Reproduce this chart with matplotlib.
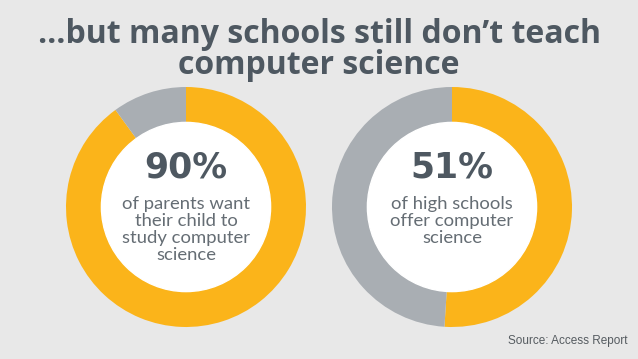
import matplotlib
matplotlib.use("Agg")
import matplotlib.pyplot as plt
from matplotlib.patches import Circle

# Data
title_lines = ["\u2026but many schools still don\u2019t teach", "computer science"]
left_values = [90, 10]
left_pct = "90%"
left_caption = "of parents want\ntheir child to\nstudy computer\nscience"
right_values = [51, 49]
right_pct = "51%"
right_caption = "of high schools\noffer computer\nscience"
source = "Source: Access Report"

YELLOW = "#FBB41A"
GRAY = "#A9AEB3"
BG = "#E8E8E8"
DARK = "#4E5861"
SUB = "#656D74"

W, H = 638, 359
fig = plt.figure(figsize=(W / 100, H / 100), dpi=100, facecolor=BG)


def donut(cx, cy, r, values, pct, caption, pct_y, cap_y):
    ax = fig.add_axes([(cx - r) / W, (H - cy - r) / H, 2 * r / W, 2 * r / H])
    ax.set_facecolor("none")
    ax.pie(values, colors=[YELLOW, GRAY], startangle=90, counterclock=False,
           radius=1, wedgeprops=dict(width=0.3, linewidth=0))
    ax.add_patch(Circle((0, 0), 0.705, color="white", zorder=3))
    ax.set_xlim(-1, 1)
    ax.set_ylim(-1, 1)
    ax.set_aspect("equal")
    ax.axis("off")
    fig.text(cx / W, 1 - pct_y / H, pct, ha="center", va="center",
             fontsize=25, fontweight="bold", color=DARK, family="DejaVu Sans")
    fig.text(cx / W, 1 - cap_y / H, caption, ha="center", va="top",
             fontsize=13.3, color=SUB, family="Lato", linespacing=1.08)


donut(186, 207, 120, left_values, left_pct, left_caption, 167, 196)
donut(452, 207, 120, right_values, right_pct, right_caption, 167, 196)

fig.text(0.5, 1 - 50 / H, "\n".join(title_lines), ha="center", va="center",
         fontsize=23, fontweight="bold", color=DARK, family="Open Sans",
         linespacing=0.92)

fig.text(627 / W, 1 - 341 / H, source, ha="right", va="center",
         fontsize=8.5, color="#555B60", family="Liberation Sans")

fig.savefig("out.png", dpi=100, facecolor=BG)
